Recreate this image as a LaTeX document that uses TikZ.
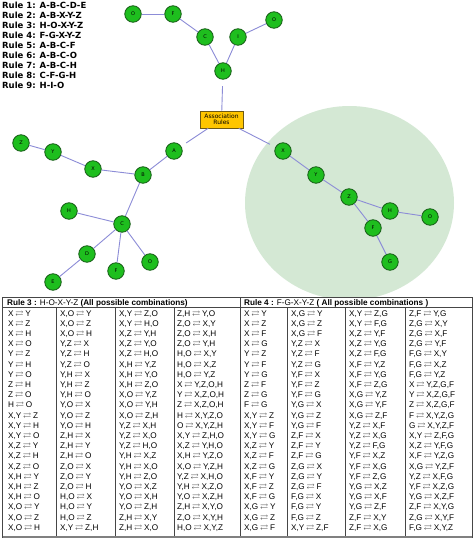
\documentclass[tikz,border=0pt]{standalone}
\usepackage{amssymb}
\usepackage{fontspec}
\setmainfont{Liberation Sans}
\newfontfamily\djv{DejaVu Sans}
\definecolor{nfill}{RGB}{30,190,30}
\definecolor{ndraw}{RGB}{20,90,20}
\definecolor{edgec}{RGB}{140,140,215}
\definecolor{boxfill}{RGB}{255,198,0}
\definecolor{boxdraw}{RGB}{110,90,20}
\definecolor{clusterc}{RGB}{212,232,212}
\definecolor{tlinec}{RGB}{70,70,70}
\newcommand{\rlarr}{\hspace{0.22em}$\rightleftarrows$\hspace{0.22em}}
\newcommand{\cellfont}{\fontsize{8.2}{9}\selectfont}
\newcommand{\tabcol}[3]{%
  \foreach \txt [count=\i] in {#3}{%
    \node[cellt] (#2-\i) at (#1,{316+(\i-1)*10.2}) {\txt};}}
\begin{document}
\begin{tikzpicture}[x=1pt,y=-1pt,
  gnode/.style={circle,draw=ndraw,fill=nfill,line width=0.8pt,minimum size=16.5pt,inner sep=0pt,font=\djv\fontsize{5}{6}\selectfont},
  glink/.style={draw=edgec,line width=0.9pt},
  cellt/.style={anchor=base west,inner sep=0pt,font=\cellfont},
  rulet/.style={anchor=base west,inner sep=0pt,font=\djv\bfseries\fontsize{8.5}{10}\selectfont},
  tline/.style={draw=tlinec,line width=0.7pt}]
\useasboundingbox[fill=white] (0,0) rectangle (474,541);

% rules list
\node[rulet] (r1) at (2,8) {Rule 1: A-B-C-D-E};
\node[rulet] (r2) at (2,18) {Rule 2: A-B-X-Y-Z};
\node[rulet] (r3) at (2,28) {Rule 3: H-O-X-Y-Z};
\node[rulet] (r4) at (2,38) {Rule 4: F-G-X-Y-Z};
\node[rulet] (r5) at (2,48) {Rule 5: A-B-C-F};
\node[rulet] (r6) at (2,58) {Rule 6: A-B-C-O};
\node[rulet] (r7) at (2,68) {Rule 7: A-B-C-H};
\node[rulet] (r8) at (2,78) {Rule 8: C-F-G-H};
\node[rulet] (r9) at (2,88) {Rule 9: H-I-O};

% highlighted cluster
\fill[clusterc] (349.5,203) ellipse [x radius=104.5, y radius=97];

% association box
\node[draw=boxdraw,fill=boxfill,line width=0.7pt,minimum width=43pt,minimum height=17pt,inner sep=1pt,align=center,font=\djv\fontsize{6}{6.5}\selectfont] (assoc) at (221.5,119.5) {Association\\Rules};

% top cluster
\node[gnode] (tO1) at (133,14) {O};
\node[gnode] (tF) at (173,14) {F};
\node[gnode] (tC) at (205,37) {C};
\node[gnode] (tI) at (238,37) {I};
\node[gnode] (tO2) at (274,20) {O};
\node[gnode] (tH) at (223,71) {H};

% left cluster
\node[gnode] (lZ) at (21,143) {Z};
\node[gnode] (lY) at (53,152) {Y};
\node[gnode] (lX) at (93,169) {X};
\node[gnode] (lB) at (143,175) {B};
\node[gnode] (lA) at (174,151) {A};
\node[gnode] (lH) at (69,211) {H};
\node[gnode] (lC) at (122,224) {C};
\node[gnode] (lD) at (87,254) {D};
\node[gnode] (lE) at (53,282) {E};
\node[gnode] (lF) at (116,271) {F};
\node[gnode] (lO) at (150,262) {O};

% right cluster
\node[gnode] (rX) at (283,151) {X};
\node[gnode] (rY) at (316,175) {Y};
\node[gnode] (rZ) at (349,197) {Z};
\node[gnode] (rH) at (390,211) {H};
\node[gnode] (rO) at (430,217) {O};
\node[gnode] (rF) at (373,228) {F};
\node[gnode] (rG) at (390,262) {G};

% links
\begin{scope}[on background layer/.style={}]
\draw[glink] (tO1) -- (tF);
\draw[glink] (tF) -- (tC);
\draw[glink] (tC) -- (tH);
\draw[glink] (tI) -- (tH);
\draw[glink] (tI) -- (tO2);
\draw[glink,shorten >=6.5pt] (assoc) -- (tH);
\draw[glink,shorten >=6pt] (assoc) -- (lA);
\draw[glink,shorten >=6pt] (assoc) -- (rX);
\draw[glink] (lZ) -- (lY);
\draw[glink] (lY) -- (lX);
\draw[glink] (lX) -- (lB);
\draw[glink] (lB) -- (lA);
\draw[glink] (lB) -- (lC);
\draw[glink] (lH) -- (lC);
\draw[glink] (lC) -- (lD);
\draw[glink] (lD) -- (lE);
\draw[glink] (lC) -- (lF);
\draw[glink] (lC) -- (lO);
\draw[glink] (rX) -- (rY);
\draw[glink] (rY) -- (rZ);
\draw[glink] (rZ) -- (rH);
\draw[glink] (rH) -- (rO);
\draw[glink] (rZ) -- (rF);
\draw[glink] (rF) -- (rG);
\end{scope}

% table
\fill[white] (2.5,297.5) rectangle (472,537);
\draw[tline] (2.5,297.5) rectangle (472,537);
\draw[tline] (2.5,307.5) -- (472,307.5);
\draw[tline] (240,297.5) -- (240,537);
\foreach \xx in {56,115,174,287,345,405}{\draw[tline] (\xx,307.5) -- (\xx,537);}
\draw[draw=gray,line width=1.6pt] (2.5,537) -- (472,537);

\node[cellt] (h3) at (7,305.5) {\textbf{Rule 3 :} H-O-X-Y-Z \textbf{(All possible combinations)}};
\node[cellt] (h4) at (244,305.5) {\textbf{Rule 4 :} F-G-X-Y-Z \textbf{( All possible combinations )}};

\tabcol{8}{a1}{{X\rlarr Y},{X\rlarr Z},{X\rlarr H},{X\rlarr O},{Y\rlarr Z},{Y\rlarr H},{Y\rlarr O},{Z\rlarr H},{Z\rlarr O},{H\rlarr O},{X,Y\rlarr Z},{X,Y\rlarr H},{X,Y\rlarr O},{X,Z\rlarr Y},{X,Z\rlarr H},{X,Z\rlarr O},{X,H\rlarr Y},{X,H\rlarr Z},{X,H\rlarr O},{X,O\rlarr Y},{X,O\rlarr Z},{X,O\rlarr H}}
\tabcol{60}{a2}{{X,O\rlarr Y},{X,O\rlarr Z},{X,O\rlarr H},{Y,Z\rlarr X},{Y,Z\rlarr H},{Y,Z\rlarr O},{Y,H\rlarr X},{Y,H\rlarr Z},{Y,H\rlarr O},{Y,O\rlarr X},{Y,O\rlarr Z},{Y,O\rlarr H},{Z,H\rlarr X},{Z,H\rlarr Y},{Z,H\rlarr O},{Z,O\rlarr X},{Z,O\rlarr Y},{Z,O\rlarr H},{H,O\rlarr X},{H,O\rlarr Y},{H,O\rlarr Z},{X,Y\rlarr Z,H}}
\tabcol{119}{a3}{{X,Y\rlarr Z,O},{X,Y\rlarr H,O},{X,Z\rlarr Y,H},{X,Z\rlarr Y,O},{X,Z\rlarr H,O},{X,H\rlarr Y,Z},{X,H\rlarr Y,O},{X,H\rlarr Z,O},{X,O\rlarr Y,Z},{X,O\rlarr Y,H},{X,O\rlarr Z,H},{Y,Z\rlarr X,H},{Y,Z\rlarr X,O},{Y,Z\rlarr H,O},{Y,H\rlarr X,Z},{Y,H\rlarr X,O},{Y,H\rlarr Z,O},{Y,O\rlarr X,Z},{Y,O\rlarr X,H},{Y,O\rlarr Z,H},{Z,H\rlarr X,Y},{Z,H\rlarr X,O}}
\tabcol{177}{a4}{{Z,H\rlarr Y,O},{Z,O\rlarr X,Y},{Z,O\rlarr X,H},{Z,O\rlarr Y,H},{H,O\rlarr X,Y},{H,O\rlarr X,Z},{H,O\rlarr Y,Z},{X\rlarr Y,Z,O,H},{Y\rlarr X,Z,O,H},{Z\rlarr X,Z,O,H},{H\rlarr X,Y,Z,O},{O\rlarr X,Y,Z,H},{X,Y\rlarr Z,H,O},{X,Z\rlarr Y,H,O},{X,H\rlarr Y,Z,O},{X,O\rlarr Y,Z,H},{Y,Z\rlarr X,H,O},{Y,H\rlarr X,Z,O},{Y,O\rlarr X,Z,H},{Z,H\rlarr X,Y,O},{Z,O\rlarr X,Y,H},{H,O\rlarr X,Y,Z}}

\tabcol{244}{b1}{{X\rlarr Y},{X\rlarr Z},{X\rlarr F},{X\rlarr G},{Y\rlarr Z},{Y\rlarr F},{Y\rlarr G},{Z\rlarr F},{Z\rlarr G},{F\rlarr G},{X,Y\rlarr Z},{X,Y\rlarr F},{X,Y\rlarr G},{X,Z\rlarr Y},{X,Z\rlarr F},{X,Z\rlarr G},{X,F\rlarr Y},{X,F\rlarr Z},{X,F\rlarr G},{X,G\rlarr Y},{X,G\rlarr Z},{X,G\rlarr F}}
\tabcol{291}{b2}{{X,G\rlarr Y},{X,G\rlarr Z},{X,G\rlarr F},{Y,Z\rlarr X},{Y,Z\rlarr F},{Y,Z\rlarr G},{Y,F\rlarr X},{Y,F\rlarr Z},{Y,F\rlarr G},{Y,G\rlarr X},{Y,G\rlarr Z},{Y,G\rlarr F},{Z,F\rlarr X},{Z,F\rlarr Y},{Z,F\rlarr G},{Z,G\rlarr X},{Z,G\rlarr Y},{Z,G\rlarr F},{F,G\rlarr X},{F,G\rlarr Y},{F,G\rlarr Z},{X,Y\rlarr Z,F}}
\tabcol{349}{b3}{{X,Y\rlarr Z,G},{X,Y\rlarr F,G},{X,Z\rlarr Y,F},{X,Z\rlarr Y,G},{X,Z\rlarr F,G},{X,F\rlarr Y,Z},{X,F\rlarr Y,G},{X,F\rlarr Z,G},{X,G\rlarr Y,Z},{X,G\rlarr Y,F},{X,G\rlarr Z,F},{Y,Z\rlarr X,F},{Y,Z\rlarr X,G},{Y,Z\rlarr F,G},{Y,F\rlarr X,Z},{Y,F\rlarr X,G},{Y,F\rlarr Z,G},{Y,G\rlarr X,Z},{Y,G\rlarr X,F},{Y,G\rlarr Z,F},{Z,F\rlarr X,Y},{Z,F\rlarr X,G}}
\tabcol{409}{b4}{{Z,F\rlarr Y,G},{Z,G\rlarr X,Y},{Z,G\rlarr X,F},{Z,G\rlarr Y,F},{F,G\rlarr X,Y},{F,G\rlarr X,Z},{F,G\rlarr Y,Z},{X\rlarr Y,Z,G,F},{Y\rlarr X,Z,G,F},{Z\rlarr X,Z,G,F},{F\rlarr X,Y,Z,G},{G\rlarr X,Y,Z,F},{X,Y\rlarr Z,F,G},{X,Z\rlarr Y,F,G},{X,F\rlarr Y,Z,G},{X,G\rlarr Y,Z,F},{Y,Z\rlarr X,F,G},{Y,F\rlarr X,Z,G},{Y,G\rlarr X,Z,F},{Z,F\rlarr X,Y,G},{Z,G\rlarr X,Y,F},{F,G\rlarr X,Y,Z}}
\end{tikzpicture}
\end{document}
